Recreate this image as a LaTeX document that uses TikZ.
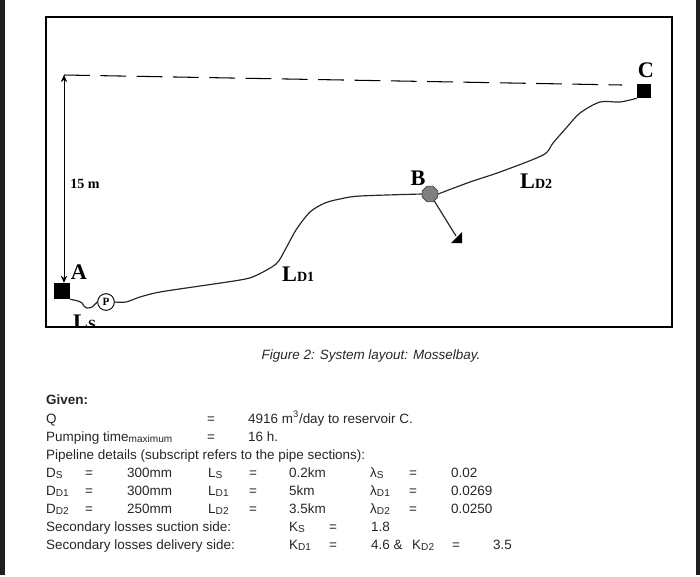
\documentclass[tikz,border=0pt]{standalone}
\usepackage{fontspec}
\setmainfont{Liberation Sans}
\newfontfamily\figfont{Liberation Serif}
\usetikzlibrary{calc}
\usetikzlibrary{positioning}
\usetikzlibrary{shapes.geometric}
\usetikzlibrary{arrows.meta}
\newcommand{\lowtxt}[1]{\raisebox{-.18ex}{\fontsize{8.6}{9}\selectfont #1}}
\newcommand{\pipesub}[1]{\raisebox{-.05ex}{\fontsize{12}{12}\selectfont #1}}
\tikzset{
  pipe/.style={line width=1pt, black!85},
  tank/.style={draw=none, fill=black, minimum size=#1, inner sep=0pt},
  sitelabel/.style={font=\figfont\bfseries\fontsize{19}{20}\selectfont, inner sep=0pt},
  pipelabel/.style={font=\figfont\bfseries\fontsize{19}{20}\selectfont, inner sep=0pt, anchor=base west},
  given/.style={font=\fontsize{11.5}{13}\selectfont, inner sep=0pt, anchor=base west, text=black!85},
  equals/.style={font=\fontsize{11.5}{13}\selectfont, inner sep=0pt, anchor=base, text=black!85},
}
\begin{document}
\begin{tikzpicture}[x=.03cm, y=-.03cm]
  \useasboundingbox (0,0) rectangle (700,576);
  % photo edges
  \fill [black!88] (0,0) rectangle (4.5,575);
  \fill [black!88] (696,0) rectangle (700,575);
  % frame and labels cut by it
  \begin{scope}
    \clip (46,17) rectangle (672,327);
    \node [pipelabel] (labelLs) at (73,329) {L\pipesub{S}};
  \end{scope}
  \node [draw, line width=2.5pt, minimum width=18.78cm, minimum height=9.3cm, inner sep=0pt] (frame) at (359,172) {};
  % sites
  \node [tank=.48cm] (tankA) at (62,291) {};
  \node [tank=.42cm] (tankC) at (644,91) {};
  \node [draw, circle, line width=.8pt, minimum size=.5cm, inner sep=0pt, font=\figfont\bfseries\fontsize{9.5}{10}\selectfont] (pump) at (106,302) {P};
  \node [regular polygon, regular polygon sides=8, draw=black!75, fill=black!50, line width=.7pt, minimum size=.5cm, inner sep=0pt] (junctionB) at (430,194) {};
  \node [sitelabel] (labelA) at (79,272) {A};
  \node [sitelabel] (labelB) at (418,178) {B};
  \node [sitelabel] (labelC) at (646,70) {C};
  \node [font=\figfont\bfseries\fontsize{12}{14}\selectfont, inner sep=0pt] (labelH) at (85,184) {15 m};
  \node [pipelabel] (labelD1) at (282,281) {L\pipesub{D1}};
  \node [pipelabel] (labelD2) at (520,188) {L\pipesub{D2}};
  % head line
  \coordinate (headTop) at (64,75);
  \coordinate (headEnd) at (622,85);
  \draw [line width=.9pt, dash pattern=on 22pt off 9pt] (headTop) -- (headEnd);
  \draw [line width=.8pt, {Stealth[length=6pt,width=5.5pt]}-{Stealth[length=6pt,width=5.5pt]}] (headTop) -- (tankA.north -| headTop);
  % pipeline
  \draw [pipe] plot [smooth, tension=.4] coordinates {
    (tankA.south east) (78,301) (82,303) (84,306) (87,308) (92,307) (pump.west)
  };
  \draw [pipe] plot [smooth, tension=.5] coordinates {
    (pump.east) (126,302) (140,297) (160,292) (200,286) (240,280) (255,276)
    (276,264) (285,250) (296,230) (310,212) (325,203) (340,199) (360,196) (junctionB.west)
  };
  \draw [pipe] plot [smooth, tension=.5] coordinates {
    (junctionB.east) (470,182) (500,172) (543,155) (553,143) (567,127)
    (580,113) (600,102) (620,102) (tankC.south west)
  };
  % offtake
  \coordinate (offtakeTip) at (462,232);
  \fill (offtakeTip) -- (462,243) -- (451,243) -- cycle;
  \draw [pipe] (junctionB) -- (456,236);
  % caption
  \node [font=\itshape\fontsize{11.5}{13}\selectfont, inner sep=0pt, text=black!85] (caption) at (371,356.5) {Figure 2: System layout: Mosselbay.};
  % given data
  \node [given, font=\bfseries\fontsize{11.5}{13}\selectfont] (given) at (46,404) {Given:};
  \foreach \row/\ypos/\name/\val in {
    q/423/Q/{4916 m\textsuperscript{3}/day to reservoir C.},
    t/441/{Pumping time\lowtxt{maximum}}/16 h.
  }{
    \node [given] (name\row) at (46,\ypos) {\name};
    \node [equals] (eq\row) at (211,\ypos) {=};
    \node [given] (val\row) at (248,\ypos) {\val};
  }
  \node [given] (pipeline) at (46,459) {Pipeline details (subscript refers to the pipe sections):};
  \foreach \row/\ypos/\sec/\dia/\len/\fric in {
    a/477/S/300mm/0.2km/0.02,
    b/495/D1/300mm/5km/0.0269,
    c/513/D2/250mm/3.5km/0.0250
  }{
    \node [given] (dia\row) at (46,\ypos) {D\lowtxt{\sec}};
    \node [equals] (diaeq\row) at (89,\ypos) {=};
    \node [given] (diaval\row) at (127,\ypos) {\dia};
    \node [given] (len\row) at (208,\ypos) {L\lowtxt{\sec}};
    \node [equals] (leneq\row) at (253,\ypos) {=};
    \node [given] (lenval\row) at (289,\ypos) {\len};
    \node [given] (fric\row) at (370,\ypos) {λ\lowtxt{\sec}};
    \node [equals] (friceq\row) at (413,\ypos) {=};
    \node [given] (fricval\row) at (451,\ypos) {\fric};
  }
  \node [given] (suction) at (46,531) {Secondary losses suction side:};
  \node [given] (ks) at (289,531) {K\lowtxt{S}};
  \node [equals] (kseq) at (333,531) {=};
  \node [given] (ksval) at (371,531) {1.8};
  \node [given] (delivery) at (46,549) {Secondary losses delivery side:};
  \node [given] (kdone) at (289,549) {K\lowtxt{D1}};
  \node [equals] (kdoneeq) at (333,549) {=};
  \node [given] (kdoneval) at (371,549) {4.6 \&};
  \node [given] (kdtwo) at (412,549) {K\lowtxt{D2}};
  \node [equals] (kdtwoeq) at (456,549) {=};
  \node [given] (kdtwoval) at (493,549) {3.5};
\end{tikzpicture}
\end{document}
